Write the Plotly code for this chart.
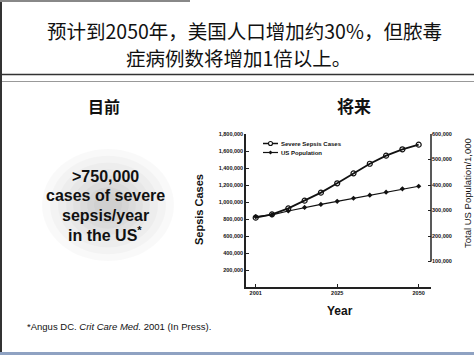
import plotly.graph_objects as go

# ---- data ----
years = ["2001", "2005", "2010", "2015", "2020", "2025", "2030", "2035", "2040", "2045", "2050"]
sepsis_cases = [816000, 855000, 925000, 1016000, 1110000, 1220000, 1337000, 1450000, 1545000, 1620000, 1675000]
us_population = [276000, 283000, 298000, 312000, 324000, 336000, 348000, 360000, 372000, 385000, 395000]
left_ticks = [200000, 400000, 600000, 800000, 1000000, 1200000, 1400000, 1600000, 1800000]
right_ticks = [100000, 200000, 300000, 400000, 500000, 600000]
x_ticks = ["2001", "2025", "2050"]

W, H = 474, 355
L, R, T, B = 246, 43, 134, 68
PW = W - L - R
PH = H - T - B

def px(x):
    return (x - L) / PW

def py(y):
    return (H - B - y) / PH

fig = go.Figure()
fig.add_trace(go.Scatter(
    x=years, y=sepsis_cases, mode="lines+markers", name="Severe Sepsis Cases",
    line=dict(color="#111", width=1.8),
    marker=dict(symbol="circle-open", size=5, color="#111", line=dict(width=1.2)),
    showlegend=False))
fig.add_trace(go.Scatter(
    x=years, y=us_population, mode="lines+markers", name="US Population", yaxis="y2",
    line=dict(color="#111", width=1.2),
    marker=dict(symbol="diamond", size=4, color="#111"),
    showlegend=False))

tickfont = dict(family="Liberation Sans, Arial", size=5.5, color="#111", weight="bold")

fig.update_layout(
    width=W, height=H, autosize=False,
    margin=dict(l=L, r=R, t=T, b=B, pad=0),
    paper_bgcolor="white", plot_bgcolor="white",
    xaxis=dict(type="category", range=[-0.595, 10.755], tickvals=x_ticks, ticktext=x_ticks,
               showline=True, linecolor="#222", linewidth=1.5, ticks="inside", ticklen=3,
               tickcolor="#222", showgrid=False, zeroline=False, tickfont=tickfont),
    yaxis=dict(range=[0, 1800000], tickvals=left_ticks, tickformat=",d",
               showline=True, linecolor="#222", linewidth=1.5, ticks="inside", ticklen=3,
               tickcolor="#222", showgrid=False, zeroline=False, tickfont=tickfont),
    yaxis2=dict(range=[0, 600000], tickvals=right_ticks, tickformat=",d", overlaying="y", side="right",
                showline=False, ticks="inside", ticklen=3, tickcolor="#222", showgrid=False,
                zeroline=False, tickfont=tickfont),
)

shapes = []
# soft gray blob behind the left text
for r in [66, 58, 50, 42, 35, 28, 21, 14]:
    cx, cy = 108, 205
    shapes.append(dict(type="circle", xref="paper", yref="paper", x0=px(cx - r), x1=px(cx + r),
                       y0=py(cy + r * 0.85), y1=py(cy - r * 0.85), line=dict(width=0),
                       fillcolor="rgba(0,0,0,0.022)", layer="below"))
# right axis line (only from 100,000 upward)
shapes.append(dict(type="line", xref="paper", yref="y2", x0=1, x1=1, y0=right_ticks[0], y1=right_ticks[-1],
                   line=dict(color="#222", width=1.5)))
# slide decorations
shapes.append(dict(type="line", xref="paper", yref="paper", x0=px(0), x1=px(W), y0=py(74.5), y1=py(74.5),
                   line=dict(color="#333", width=1.5)))
shapes.append(dict(type="line", xref="paper", yref="paper", x0=px(0), x1=px(W), y0=py(81.5), y1=py(81.5),
                   line=dict(color="#999", width=1.2)))
shapes.append(dict(type="line", xref="paper", yref="paper", x0=px(1), x1=px(1), y0=py(0), y1=py(352),
                   line=dict(color="#333", width=2)))
shapes.append(dict(type="line", xref="paper", yref="paper", x0=px(0), x1=px(190), y0=py(1), y1=py(1),
                   line=dict(color="#888", width=2)))
shapes.append(dict(type="line", xref="paper", yref="paper", x0=px(0), x1=px(W), y0=py(353.5), y1=py(353.5),
                   line=dict(color="#8fa2c2", width=3)))
# legend samples
shapes.append(dict(type="line", xref="paper", yref="paper", x0=px(263), x1=px(278), y0=py(143.5), y1=py(143.5),
                   line=dict(color="#111", width=1.5)))
shapes.append(dict(type="circle", xref="paper", yref="paper", x0=px(268.5), x1=px(272.5), y0=py(145.5), y1=py(141.5),
                   line=dict(color="#111", width=1.1), fillcolor="white"))
shapes.append(dict(type="line", xref="paper", yref="paper", x0=px(263), x1=px(278), y0=py(152.5), y1=py(152.5),
                   line=dict(color="#111", width=1.2)))
shapes.append(dict(type="path", xref="paper", yref="paper",
                   path="M %f %f L %f %f L %f %f L %f %f Z" % (px(270.5), py(150.5), px(272.5), py(152.5),
                                                               px(270.5), py(154.5), px(268.5), py(152.5)),
                   line=dict(width=0), fillcolor="#111"))
fig.update_layout(shapes=shapes)

ann = []
def text(x, y, s, size, family="Liberation Sans, Arial", weight="normal", angle=0, xanchor="center", color="#111"):
    ann.append(dict(xref="paper", yref="paper", x=px(x), y=py(y), text=s, showarrow=False, textangle=angle,
                    xanchor=xanchor, yanchor="middle", align="center",
                    font=dict(family=family, size=size, weight=weight, color=color)))

cjk = "Noto Sans CJK SC"
text(244, 30.5, "预计到2050年，美国人口增加约30%，但脓毒", 19.5, family=cjk)
text(238, 57.5, "症病例数将增加1倍以上。", 19.5, family=cjk)
text(104, 106, "目前", 16, family=cjk, weight="bold")
text(354, 105, "将来", 17, family=cjk, weight="bold")
text(105, 176, ">750,000", 16, weight="bold")
text(105, 195.5, "cases of severe", 16, weight="bold")
text(105, 215, "sepsis/year", 16, weight="bold")
text(105, 234, "in the US<sup>*</sup>", 16, weight="bold")
text(25, 326, "*Angus DC. <i>Crit Care Med.</i> 2001 (In Press).", 9.5, xanchor="left")
text(199, 210, "Sepsis Cases", 11, weight="bold", angle=-90)
text(340, 311, "Year", 12, weight="bold")
text(467, 193, "Total US Population/1,000", 9.5, angle=-90)
text(279, 143.5, "Severe Sepsis Cases", 6, weight="bold", xanchor="left")
text(279, 152.5, "US Population", 6, weight="bold", xanchor="left")
fig.update_layout(annotations=ann)

fig.write_html("out.html")
